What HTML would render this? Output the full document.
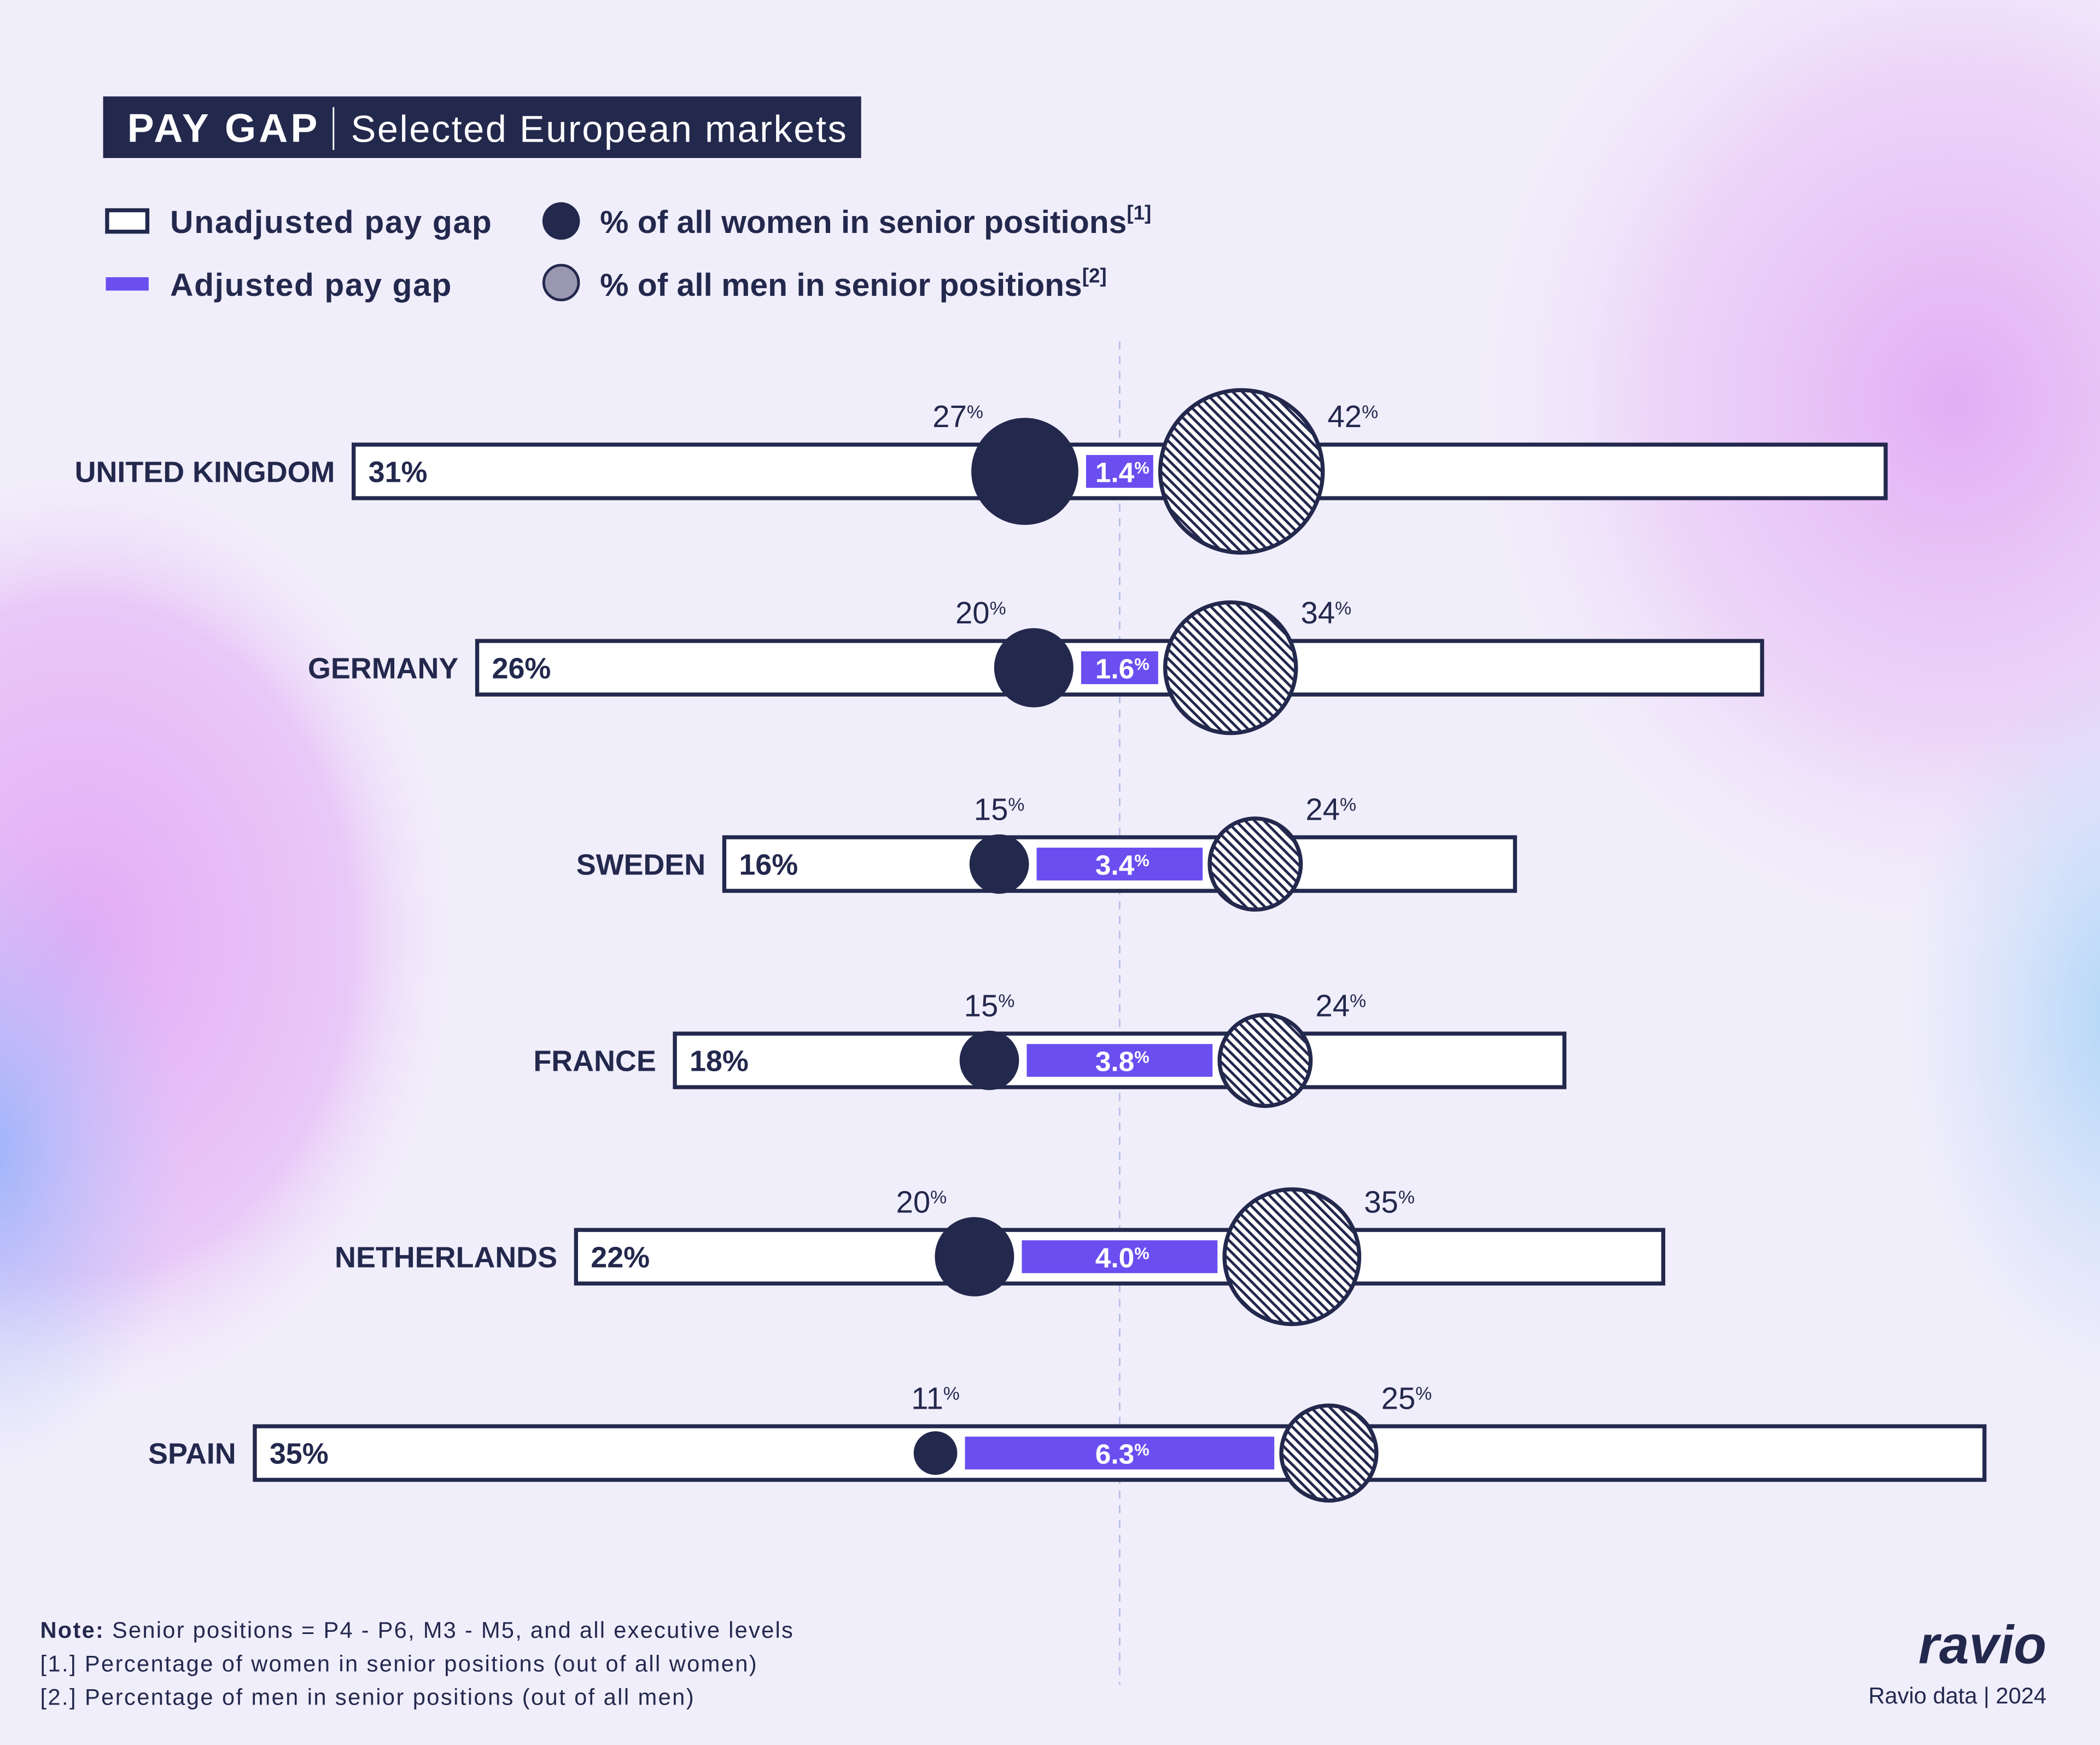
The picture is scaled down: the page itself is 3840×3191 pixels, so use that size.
<!DOCTYPE html>
<html><head><meta charset="utf-8"><style>
html,body{margin:0;padding:0;background:#f1eefb;}
svg{display:block;font-family:"Liberation Sans",Arial,sans-serif;}
</style></head><body>
<svg id="chart" width="3840" height="3191" viewBox="0 0 1568 1303" xmlns="http://www.w3.org/2000/svg">
<defs>
<radialGradient id="gLeft" cx="0.5" cy="0.5" r="0.5"><stop offset="0" stop-color="#e3aaf6" stop-opacity="1"/><stop offset="0.7" stop-color="#e6b8f6" stop-opacity="0.7"/><stop offset="1" stop-color="#f1eefb" stop-opacity="0"/></radialGradient>
<radialGradient id="gLeftBlue" cx="0.5" cy="0.5" r="0.5"><stop offset="0" stop-color="#93b2fb" stop-opacity="0.9"/><stop offset="1" stop-color="#b9c8fb" stop-opacity="0"/></radialGradient>
<radialGradient id="gRight" cx="0.5" cy="0.5" r="0.5"><stop offset="0" stop-color="#e0a6f4" stop-opacity="0.9"/><stop offset="0.6" stop-color="#e8bdf6" stop-opacity="0.5"/><stop offset="1" stop-color="#f1eefb" stop-opacity="0"/></radialGradient>
<radialGradient id="gRightBlue" cx="0.5" cy="0.5" r="0.5"><stop offset="0" stop-color="#a9d4f7" stop-opacity="0.95"/><stop offset="1" stop-color="#c6d8fa" stop-opacity="0"/></radialGradient>
<pattern id="hatch" patternUnits="userSpaceOnUse" width="5" height="5" patternTransform="rotate(45)">
<rect width="5" height="5" fill="#ffffff"/><rect width="5" height="2" fill="#23284d"/>
</pattern>
</defs>
<rect width="1568" height="1303" fill="#f1eefb"/>
<ellipse cx="60" cy="700" rx="290" ry="360" fill="url(#gLeft)"/>
<ellipse cx="-10" cy="860" rx="150" ry="240" fill="url(#gLeftBlue)"/>
<ellipse cx="1460" cy="300" rx="380" ry="420" fill="url(#gRight)"/>
<ellipse cx="1590" cy="760" rx="170" ry="280" fill="url(#gRightBlue)"/>

<g>
<rect x="77" y="72" width="566" height="46" fill="#23284d"/>
<text x="95" y="106" font-size="30" font-weight="700" fill="#fff" textLength="142">PAY GAP</text>
<line x1="249" y1="80" x2="249" y2="112" stroke="#fff" stroke-width="1.2"/>
<text x="262" y="106" font-size="28" fill="#fff" textLength="370">Selected European markets</text>
</g>

<g fill="#23284d" font-size="24" font-weight="700">
<rect x="80" y="157" width="30" height="16" fill="#fff" stroke="#23284d" stroke-width="3"/>
<text x="127" y="174" textLength="240">Unadjusted pay gap</text>
<rect x="79" y="207" width="32" height="10" fill="#6b4ef0"/>
<text x="127" y="221" textLength="210">Adjusted pay gap</text>
<circle cx="419" cy="165" r="14" fill="#23284d"/>
<text x="448" y="174">% of all women in senior positions<tspan font-size="15" dy="-10">[1]</tspan></text>
<circle cx="419" cy="211" r="13" fill="#9a98b0" stroke="#23284d" stroke-width="2"/>
<text x="448" y="221">% of all men in senior positions<tspan font-size="15" dy="-10">[2]</tspan></text>
</g>

<line x1="836" y1="255" x2="836" y2="1258" stroke="#b8c0e8" stroke-width="1.2" stroke-dasharray="6,5"/>
<g id="rows"></g>

<g font-size="17" fill="#23284d">
<text x="30" y="1223" textLength="562"><tspan font-weight="700">Note:</tspan> Senior positions = P4 - P6, M3 - M5, and all executive levels</text>
<text x="30" y="1248" textLength="535">[1.] Percentage of women in senior positions (out of all women)</text>
<text x="30" y="1273" textLength="488">[2.] Percentage of men in senior positions (out of all men)</text>
</g>
<text x="1528" y="1242" text-anchor="end" font-size="40" font-weight="700" font-style="italic" fill="#23284d">ravio</text>
<text x="1528" y="1272" text-anchor="end" font-size="17" fill="#23284d">Ravio data | 2024</text>
</svg>
<script>
const countries = ["UNITED KINGDOM","GERMANY","SWEDEN","FRANCE","NETHERLANDS","SPAIN"];
const unadjusted = [31,26,16,18,22,35];
const adjusted = [1.4,1.6,3.4,3.8,4.0,6.3];
const women = [27,20,15,15,20,11];
const men = [42,34,24,24,35,25];

const NS = "http://www.w3.org/2000/svg";
const cx0 = 836, pxPer = 36.9, rowY0 = 352, rowStep = 146.6;
const xScale = v => v * pxPer;
const rScale = v => v * 1.48;
const navy = "#23284d", purple = "#6b4ef0";
const g = document.getElementById("rows");
function mk(tag, attrs, parent) {
  const e = document.createElementNS(NS, tag);
  for (const k in attrs) e.setAttribute(k, attrs[k]);
  parent.appendChild(e);
  return e;
}
function pctText(parent, x, y, val, size, color, anchor, weight) {
  const t = mk("text", {x: x, y: y, "font-size": size, "font-weight": weight, fill: color, "text-anchor": anchor}, parent);
  t.appendChild(document.createTextNode(val));
  const s = mk("tspan", {"font-size": size * 0.6, dy: -size * 0.3}, t);
  s.textContent = "%";
  return t;
}
countries.forEach((c, i) => {
  const y = rowY0 + i * rowStep;
  const row = mk("g", {}, g);
  
  
  const w = xScale(unadjusted[i]);
  const bar = mk("rect", {x: cx0 - w / 2, y: y - 20, width: w, height: 40, fill: "#fff", stroke: navy, "stroke-width": 3}, row);
  
  
  const lab = mk("text", {x: cx0 - w / 2 - 14, y: y + 8, "font-size": 22, "font-weight": "700", fill: navy, "text-anchor": "end"}, row);
  lab.textContent = c;
  
  
  const ul = mk("text", {x: cx0 - w / 2 + 11, y: y + 8, "font-size": 22, "font-weight": "700", fill: navy}, row);
  ul.textContent = unadjusted[i] + "%";
  
  
  const aw = xScale(adjusted[i]);
  const ab = mk("rect", {x: cx0 - aw / 2, y: y - 13, width: aw, height: 26, fill: purple, stroke: "#fff", "stroke-width": 1.5}, row);
  
  
  const rw = rScale(women[i]);
  const wcx = cx0 - aw / 2 - 5 - rw;
  const wc = mk("circle", {cx: wcx, cy: y, r: rw, fill: navy}, row);
  
  
  const rm = rScale(men[i]);
  const mcx = cx0 + aw / 2 + 3 + rm;
  const mc = mk("circle", {cx: mcx, cy: y, r: rm - 1.5, fill: "url(#hatch)", stroke: navy, "stroke-width": 3}, row);
  
  
  const at = pctText(row, cx0 + 2, y + 8, adjusted[i].toFixed(1), 21, "#fff", "middle", "700");
  
  
  const wlx = rw > 25 ? wcx - rw - 10 : wcx;
  const wt = pctText(row, wlx, y - 33, women[i], 23, navy, "middle", "400");
  
  
  const mt = pctText(row, mcx + rm + 21, y - 33, men[i], 23, navy, "middle", "400");
  
  
});
</script>
</body></html>
